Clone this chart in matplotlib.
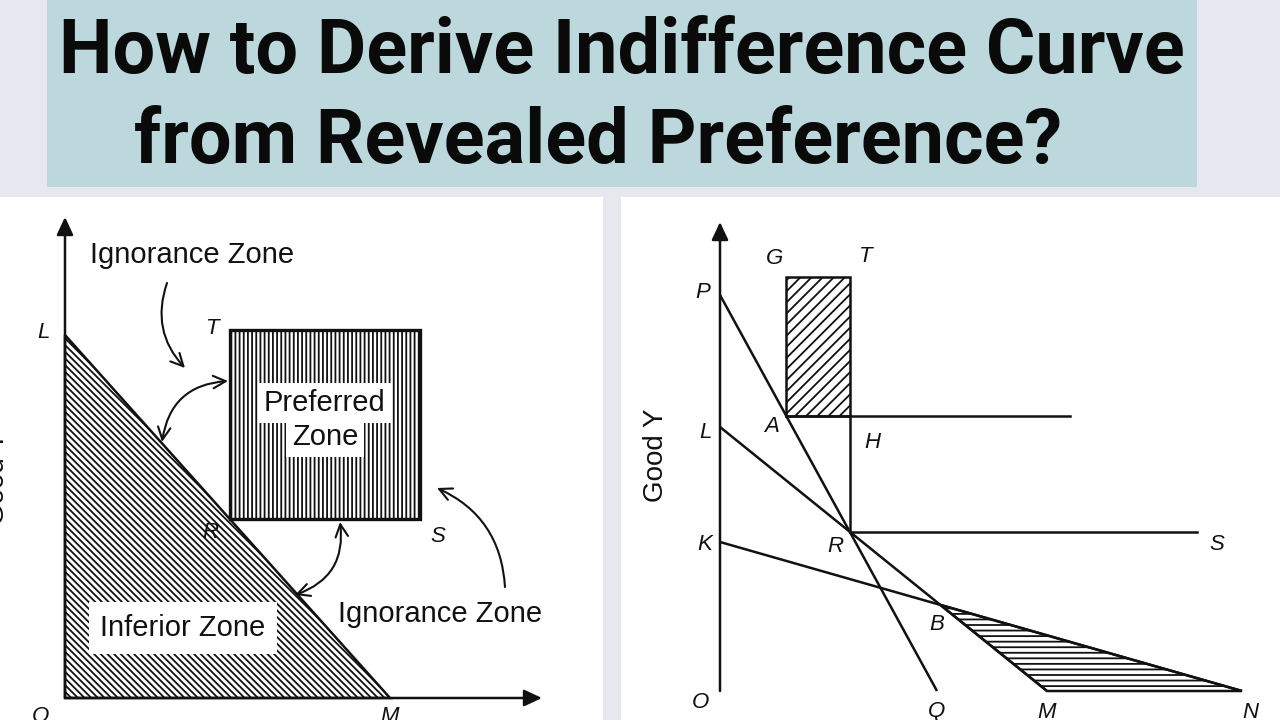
import numpy as np
import matplotlib
matplotlib.use('Agg')
import matplotlib.pyplot as plt
from matplotlib.patches import Polygon, Rectangle, FancyArrowPatch

plt.rcParams['hatch.linewidth'] = 1.3
plt.rcParams['hatch.color'] = '#111111'

BG = '#e7e7ef'
TITLE_BG = '#bdd8dc'
INK = '#111111'
SANS = ['Liberation Sans', 'DejaVu Sans']

title_lines = ['How to Derive Indifference Curve', 'from Revealed Preference?']

# ---- left diagram (units: px from origin O, y up) ----
left_L = (0, 363)                 # budget line intercept on Y axis
left_M = (325, 0)                 # budget line intercept on X axis
left_box_x = (165, 355)           # preferred box, from R to S
left_box_top = 368                # T level
left_axis_end = (477, 481)
left_letters = ['L', 'T', 'R', 'S', 'O', 'M']
left_letter_xy = [(-22, 365), (148, 370), (145, 166), (373, 161), (-25, -19), (325, -19)]

# ---- right diagram ----
y_intercepts = {'P': 396, 'L': 264, 'K': 149}
x_intercepts = {'Q': 217, 'M': 327, 'N': 522}
level_A = 275                     # horizontal through A and H
box_top = 414                     # G-T level
line_A_end = 350
line_S_end = 477
right_axis_end = (566, 469)
right_letters = ['P', 'L', 'K', 'O', 'G', 'T', 'A', 'H', 'R', 'S', 'B', 'Q', 'M', 'N']
right_letter_xy = [(-17, 399), (-15, 258), (-15, 146), (-20, -12), (55, 432), (146, 434),
                   (52, 264), (152, 249), (115, 144), (497, 146), (217, 66),
                   (217, -21), (327, -21), (530, -21)]


def meet(p1, p2, p3, p4):
    """intersection of line p1p2 with line p3p4"""
    a = np.array([[p2[0] - p1[0], p3[0] - p4[0]], [p2[1] - p1[1], p3[1] - p4[1]]], float)
    b = np.array([p3[0] - p1[0], p3[1] - p1[1]], float)
    t = np.linalg.solve(a, b)[0]
    return (p1[0] + t * (p2[0] - p1[0]), p1[1] + t * (p2[1] - p1[1]))


def panel(fig, left_px, width_px):
    ax = fig.add_axes([left_px / 1280, 0, width_px / 1280, 523 / 720])
    ax.set_facecolor('white')
    for s in ax.spines.values():
        s.set_visible(False)
    ax.set_xticks([])
    ax.set_yticks([])
    return ax


def draw_axes(ax, end):
    for tip in [(end[0], 0), (0, end[1])]:
        ax.annotate('', xy=tip, xytext=(0, 0),
                    arrowprops=dict(arrowstyle='-|>,head_length=0.6,head_width=0.28',
                                    lw=1.8, color=INK, shrinkA=0, shrinkB=0,
                                    mutation_scale=18))


def curved(ax, a, b, rad, style='->'):
    ax.add_patch(FancyArrowPatch(a, b, connectionstyle=f'arc3,rad={rad}',
                                 arrowstyle=f'{style},head_length=0.5,head_width=0.25',
                                 mutation_scale=18, lw=1.5, color=INK,
                                 shrinkA=0, shrinkB=0))


def letters(ax, names, xy):
    for n, (x, y) in zip(names, xy):
        ax.text(x, y, n, fontsize=16, style='italic', family=SANS, color=INK,
                ha='center', va='center')


fig = plt.figure(figsize=(12.8, 7.2), dpi=100, facecolor=BG)

# title block
ax_t = fig.add_axes([47 / 1280, 1 - 187 / 720, 1150 / 1280, 187 / 720])
ax_t.set_facecolor(TITLE_BG)
for s in ax_t.spines.values():
    s.set_visible(False)
ax_t.set_xticks([])
ax_t.set_yticks([])
fig.text(622 / 1280, 1 - 73 / 720, title_lines[0], fontsize=54.5, fontweight='bold',
         family=['Roboto', 'DejaVu Sans'], ha='center', va='baseline', color='#0a0a0a')
fig.text(598 / 1280, 1 - 163 / 720, title_lines[1], fontsize=54.5, fontweight='bold',
         family=['Roboto', 'DejaVu Sans'], ha='center', va='baseline', color='#0a0a0a')

# ================= left panel =================
axl = panel(fig, 0, 603)
axl.set_xlim(-65, 538)
axl.set_ylim(-22, 501)

axl.add_patch(Polygon([(0, 0), left_L, left_M], closed=True, facecolor='white',
                      edgecolor=INK, lw=1.8, hatch='\\' * 5))
slope = (left_M[1] - left_L[1]) / (left_M[0] - left_L[0])
R_left = (left_box_x[0], left_L[1] + slope * left_box_x[0])
axl.add_patch(Rectangle((left_box_x[0], R_left[1]), left_box_x[1] - left_box_x[0],
                        left_box_top - R_left[1], facecolor='white', edgecolor=INK,
                        lw=2.4, hatch='||||'))
draw_axes(axl, left_axis_end)

box = dict(boxstyle='square,pad=0.2', facecolor='white', edgecolor='none')
axl.text(260, 295, 'Preferred', fontsize=21, family=SANS, ha='center', va='center',
         color=INK, bbox=box)
axl.text(260, 261, 'Zone', fontsize=21, family=SANS, ha='center', va='center',
         color=INK, bbox=box)
axl.text(118, 70, 'Inferior Zone', fontsize=21, family=SANS, ha='center', va='center',
         color=INK, bbox=dict(boxstyle='square,pad=0.4', facecolor='white', edgecolor='none'))
axl.text(127, 443, 'Ignorance Zone', fontsize=21, family=SANS, ha='center', va='center', color=INK)
axl.text(375, 84, 'Ignorance Zone', fontsize=21, family=SANS, ha='center', va='center', color=INK)
axl.text(-68, 220, 'Good Y', fontsize=20, family=SANS, rotation=90, ha='center',
         va='center', color=INK)

curved(axl, (102, 415), (120, 330), 0.3)
curved(axl, (163, 317), (97, 256), 0.4, '<->')
curved(axl, (275, 176), (230, 103), -0.4, '<->')
curved(axl, (440, 111), (372, 210), 0.3)
letters(axl, left_letters, left_letter_xy)

# ================= right panel =================
axr = panel(fig, 621, 659)
axr.set_xlim(-99, 560)
axr.set_ylim(-29, 494)

P = (0, y_intercepts['P']); L = (0, y_intercepts['L']); K = (0, y_intercepts['K'])
Q = (x_intercepts['Q'], 0); M = (x_intercepts['M'], 0); N = (x_intercepts['N'], 0)
R = meet(P, Q, L, M)
B = meet(L, M, K, N)
A = (P[0] + (level_A - P[1]) / (Q[1] - P[1]) * (Q[0] - P[0]), level_A)

axr.add_patch(Polygon([B, M, N], closed=True, facecolor='white', edgecolor=INK,
                      lw=1.8, hatch='---'))
axr.add_patch(Rectangle((A[0], level_A), R[0] - A[0], box_top - level_A,
                        facecolor='white', edgecolor=INK, lw=1.8, hatch='///'))
for a, b in [(P, Q), (L, M), (K, N)]:
    axr.plot([a[0], b[0]], [a[1], b[1]], color=INK, lw=1.8, solid_capstyle='butt')
axr.plot([A[0], line_A_end], [level_A, level_A], color=INK, lw=1.8)
axr.plot([R[0], R[0]], [level_A, R[1]], color=INK, lw=1.8)
axr.plot([R[0], line_S_end], [R[1], R[1]], color=INK, lw=1.8)
draw_axes(axr, right_axis_end)

axr.text(-64, 236, 'Good Y', fontsize=20, family=SANS, rotation=90, ha='center',
         va='center', color=INK)
letters(axr, right_letters, right_letter_xy)

fig.savefig('out.png', dpi=100, facecolor=BG)
print('saved out.png')
